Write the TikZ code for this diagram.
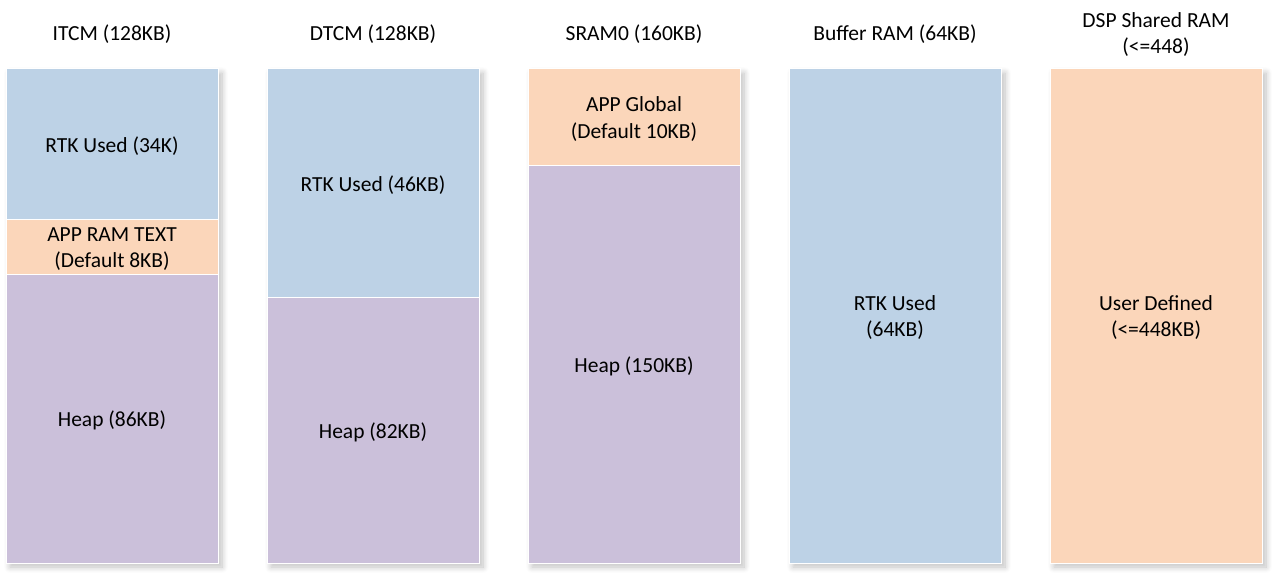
\documentclass[tikz,border=0pt]{standalone}
\usepackage{fontspec}
\setmainfont{Carlito}
\usetikzlibrary{shadows.blur}
\definecolor{cblue}{RGB}{189,210,230}
\definecolor{cpeach}{RGB}{251,214,186}
\definecolor{clav}{RGB}{203,192,218}
\begin{document}
\begin{tikzpicture}[x=1pt,y=-1pt,
  seg/.style={draw=white,line width=1pt,inner sep=0pt,font=\fontsize{21.5}{26.5}\selectfont,align=center},
  lab/.style={yshift=-1.5pt},
  ttl/.style={font=\fontsize{21.5}{26}\selectfont,align=center,inner sep=0pt},
  col/.style={fill=white,blur shadow={shadow xshift=4pt,shadow yshift=-4pt,shadow blur steps=10,shadow blur radius=6pt,shadow opacity=25}}]
\useasboundingbox (0,0) rectangle (1277,577);
% shadows
\foreach \x in {6,267,528,789,1050}{
  \path[col] (\x,69) rectangle ++(212,494);
}
% ITCM
\path[seg,fill=cblue] (6,69) rectangle (218,220) node[midway,lab] (i1) {RTK Used (34K)};
\path[seg,fill=cpeach] (6,220) rectangle (218,275) node[midway,lab] (i2) {APP RAM TEXT\\(Default 8KB)};
\path[seg,fill=clav] (6,275) rectangle (218,563) node[midway,lab] (i3) {Heap (86KB)};
% DTCM
\path[seg,fill=cblue] (267,69) rectangle (479,298) node[midway,lab] (d1) {RTK Used (46KB)};
\path[seg,fill=clav] (267,298) rectangle (479,563) node[midway,lab] (d2) {Heap (82KB)};
% SRAM0
\path[seg,fill=cpeach] (528,69) rectangle (740,166) node[midway,lab] (s1) {APP Global\\(Default 10KB)};
\path[seg,fill=clav] (528,166) rectangle (740,563) node[midway,lab] (s2) {Heap (150KB)};
% Buffer
\path[seg,fill=cblue] (789,69) rectangle (1001,563) node[midway,lab] (b1) {RTK Used\\(64KB)};
% DSP
\path[seg,fill=cpeach] (1050,69) rectangle (1262,563) node[midway,lab] (p1) {User Defined\\(<=448KB)};
% titles
\node[ttl] (t1) at (112,34) {ITCM (128KB)};
\node[ttl] (t2) at (373,34) {DTCM (128KB)};
\node[ttl] (t3) at (634,34) {SRAM0 (160KB)};
\node[ttl] (t4) at (895,34) {Buffer RAM (64KB)};
\node[ttl] (t5) at (1156,35) {DSP Shared RAM\\(<=448)};
\end{tikzpicture}
\end{document}
